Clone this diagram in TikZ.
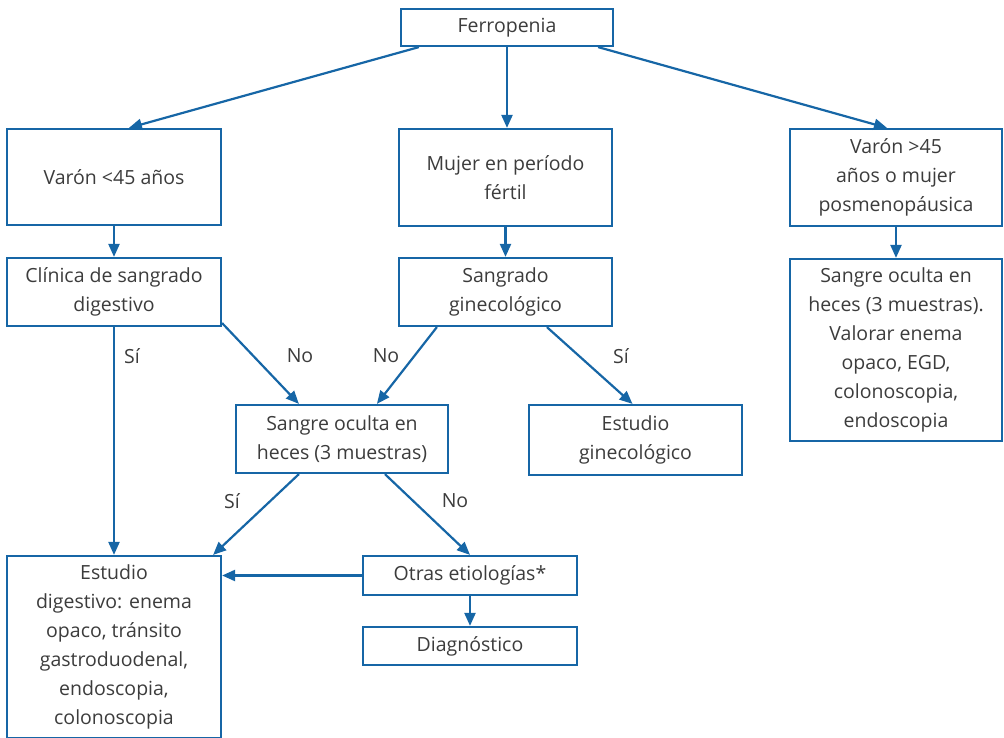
\documentclass[tikz,border=0pt]{standalone}
\usepackage{fontspec}
\setmainfont{Open Sans}
\usetikzlibrary{arrows.meta,calc}
\definecolor{fblue}{RGB}{22,102,166}
\definecolor{ftext}{RGB}{60,60,60}
\begin{document}
\begin{tikzpicture}[x=1pt,y=-1pt,
 box/.style={draw=fblue,line width=2.2pt,fill=white,text=ftext,align=center,font=\fontsize{19.5}{29}\selectfont,inner sep=0pt},
 arr/.style={draw=fblue,line width=2.2pt,-{Triangle[length=13pt,width=11pt]}},
 lab/.style={text=ftext,font=\fontsize{19.5}{29}\selectfont,inner sep=0pt}]
\useasboundingbox (0,0) rectangle (1004,738);
\node[box,minimum width=212pt,minimum height=37pt] (fer) at (507,27.5) {Ferropenia};
\node[box,minimum width=214pt,minimum height=96pt] (v1) at (114,177) {Varón <45 años};
\node[box,minimum width=213pt,minimum height=97pt] (muj) at (505.5,177.5) {Mujer en período\\fértil};
\node[box,minimum width=212pt,minimum height=97pt] (v2) at (896,177.5) {Varón >45\\años o mujer\\posmenopáusica};
\node[box,minimum width=214pt,minimum height=68pt] (cli) at (114,292) {Clínica de sangrado\\digestivo};
\node[box,minimum width=213pt,minimum height=68pt] (sang) at (505.5,292) {Sangrado\\ginecológico};
\node[box,minimum width=212pt,minimum height=182pt] (sor) at (896,350) {Sangre oculta en\\heces (3 muestras).\\Valorar enema\\opaco, EGD,\\colonoscopia,\\endoscopia};
\node[box,minimum width=212pt,minimum height=68pt] (som) at (342,439) {Sangre oculta en\\heces (3 muestras)};
\node[box,minimum width=213pt,minimum height=70pt] (eg) at (635.5,440) {Estudio\\ginecológico};
\node[box,minimum width=214pt,minimum height=182pt] (ed) at (114,647) {Estudio\\digestivo: enema\\opaco, tránsito\\gastroduodenal,\\endoscopia,\\colonoscopia};
\node[box,minimum width=214pt,minimum height=39pt] (ot) at (470,575.5) {Otras etiologías*};
\node[box,minimum width=214pt,minimum height=38pt] (dia) at (470,646) {Diagnóstico};
\node[lab] (l1) at (132,356) {Sí};
\node[lab] (l2) at (300,356) {No};
\node[lab] (l3) at (386,356) {No};
\node[lab] (l4) at (621,356) {Sí};
\node[lab] (l5) at (232,501) {Sí};
\node[lab] (l6) at (455,501) {No};
\draw[arr] ([xshift=19pt]fer.south west) -- ([xshift=123pt]v1.north west);
\draw[arr] (fer.south) -- (fer.south |- muj.north);
\draw[arr] ([xshift=-16pt]fer.south east) -- ([xshift=-9pt]v2.north);
\draw[arr] (v1.south) -- (cli.north);
\draw[arr] (muj.south) -- (sang.north);
\draw[arr] (v2.south) -- (sor.north);
\draw[arr] (cli.south) -- (ed.north);
\draw[arr] ([yshift=4pt]cli.south east) -- ([xshift=64pt]som.north west);
\draw[arr] ([xshift=39pt]sang.south west) -- ([xshift=142pt]som.north west);
\draw[arr] ([xshift=149pt]sang.south west) -- ([xshift=-3pt]eg.north);
\draw[arr] ([xshift=64pt]som.south west) -- ([xshift=-9pt]ed.north east);
\draw[arr] ([xshift=150pt]som.south west) -- (ot.north);
\draw[arr] (ot.west) -- (ed.east |- ot.west);
\draw[arr] (ot.south) -- (dia.north);
\end{tikzpicture}
\end{document}
